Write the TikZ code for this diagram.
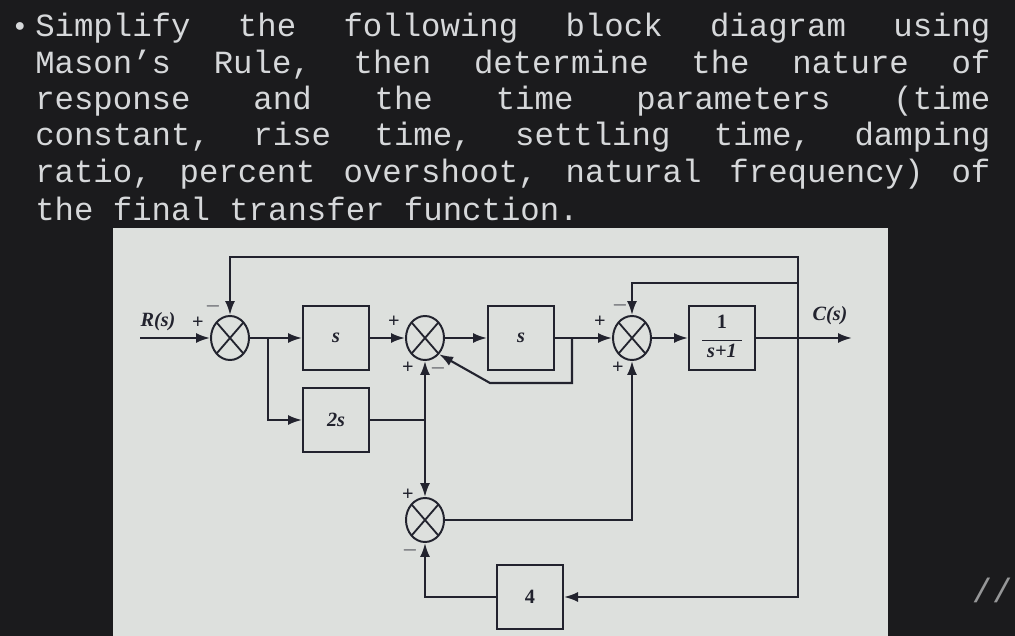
\documentclass[tikz,border=0pt]{standalone}
\usepackage{fontspec}
\setmonofont{Liberation Mono}
\newfontfamily\dfont{Liberation Serif}
\usetikzlibrary{shapes.geometric,arrows.meta}
\definecolor{bg}{HTML}{1B1B1D}
\definecolor{txt}{HTML}{D6D8DA}
\definecolor{panel}{HTML}{DDE0DD}
\definecolor{ink}{HTML}{22232E}
\tikzset{
 sumj/.style={ellipse,draw=ink,line width=1.4pt,minimum width=0.95cm,minimum height=1.1cm,inner sep=0pt,
   path picture={\draw[ink,line width=1.3pt] (path picture bounding box.north west)--(path picture bounding box.south east)
   (path picture bounding box.north east)--(path picture bounding box.south west);}},
 blk/.style={rectangle,draw=ink,line width=1.4pt,minimum width=1.65cm,minimum height=1.6cm,inner sep=0pt,font=\dfont\bfseries\itshape\Large,text=ink},
 wire/.style={ink,line width=1.5pt},
 arr/.style={wire,-{Latex[length=3.5mm,width=2.5mm]}},
 sg/.style={font=\dfont\bfseries\Large,text=ink,inner sep=0pt},
 line/.style={anchor=west,font=\ttfamily\fontsize{23}{27}\selectfont,text=txt,inner sep=0pt}
}
\begin{document}
\begin{tikzpicture}[x=0.025cm,y=-0.025cm]
\fill[bg] (0,0) rectangle (1015,636);
\useasboundingbox (0,0) rectangle (1015,636);
\fill[panel] (113,228) rectangle (888,636);
% text
\node[text=txt,font=\fontsize{14}{14}\selectfont] at (20,27) {$\bullet$};
\node[line] at (35,28) {\hbox to 23.875cm{Simplify\hfill the\hfill following\hfill block\hfill diagram\hfill using}};
\node[line] at (35,65) {\hbox to 23.875cm{Mason’s\hfill Rule,\hfill then\hfill determine\hfill the\hfill nature\hfill of}};
\node[line] at (35,101) {\hbox to 23.875cm{response\hfill and\hfill the\hfill time\hfill parameters\hfill (time}};
\node[line] at (35,137) {\hbox to 23.875cm{constant,\hfill rise\hfill time,\hfill settling\hfill time,\hfill damping}};
\node[line] at (35,174) {\hbox to 23.875cm{ratio,\hfill percent\hfill overshoot,\hfill natural\hfill frequency)\hfill of}};
\node[line] at (35,209) {the final transfer function.};
\node[text=txt!70!black,font=\ttfamily\fontsize{24}{24}\selectfont,inner sep=0pt] (sl) at (992,590) {//};
% diagram
\node[sumj] (s1) at (230,338) {};
\node[sumj] (s2) at (425,338) {};
\node[sumj] (s3) at (632,338) {};
\node[sumj] (s4) at (425,520) {};
\node[blk] (b1) at (336,338) {s};
\node[blk] (b2) at (336,420) {2s};
\node[blk] (b3) at (521,338) {s};
\node[blk,font=\dfont\bfseries\Large] (b5) at (722,338) {\begin{tabular}{@{}c@{}}1\\[-9pt]\rule{1.0cm}{0.8pt}\\[-6pt]\itshape s+1\end{tabular}};
\node[blk] (b4) at (530,597) {\upshape 4};
\node[font=\dfont\bfseries\itshape\Large,text=ink] (R) at (158,322) {R(s)};
\node[font=\dfont\bfseries\itshape\Large,text=ink] (C) at (830,316) {C(s)};
\coordinate (in) at (140,338);
\coordinate (out) at (852,338);
\coordinate (j1) at (268,338);
\coordinate (j1d) at (268,420);
\coordinate (j2) at (425,420);
\coordinate (j3) at (572,338);
\coordinate (j3d) at (572,383);
\coordinate (j3l) at (490,383);
\coordinate (jo) at (798,338);
\coordinate (t1) at (798,257);
\coordinate (t1l) at (230,257);
\coordinate (t2) at (798,283);
\coordinate (t2l) at (632,283);
\coordinate (bo) at (798,597);
\coordinate (b4l) at (425,597);
\coordinate (s4r) at (632,520);
\draw[arr] (in) -- (s1);
\draw[wire] (s1) -- (j1);
\draw[arr] (j1) -- (b1);
\draw[arr] (j1) -- (j1d) -- (b2);
\draw[arr] (b1) -- (s2);
\draw[arr] (s2) -- (b3);
\draw[wire] (b3) -- (j3);
\draw[arr] (j3) -- (s3);
\draw[arr] (j3) -- (j3d) -- (j3l) -- (s2.south east);
\draw[arr] (s3) -- (b5);
\draw[arr] (b5) -- (out);
\draw[wire] (b2) -- (j2);
\draw[arr] (j2) -- (s2);
\draw[arr] (j2) -- (s4);
\draw[arr] (jo) -- (t1) -- (t1l) -- (s1);
\draw[arr] (t2) -- (t2l) -- (s3);
\draw[arr] (jo) -- (bo) -- (b4);
\draw[arr] (b4) -- (b4l) -- (s4);
\draw[arr] (s4) -- (s4r) -- (s3);
% signs
\node[sg] at (198,323) {+}; \node[sg] at (213,306) {$-$};
\node[sg] at (394,322) {+}; \node[sg] at (408,368) {+}; \node[sg] at (438,368) {$-$};
\node[sg] at (600,322) {+}; \node[sg] at (620,305) {$-$}; \node[sg] at (618,368) {+};
\node[sg] at (408,495) {+}; \node[sg] at (410,550) {$-$};
\end{tikzpicture}
\end{document}
